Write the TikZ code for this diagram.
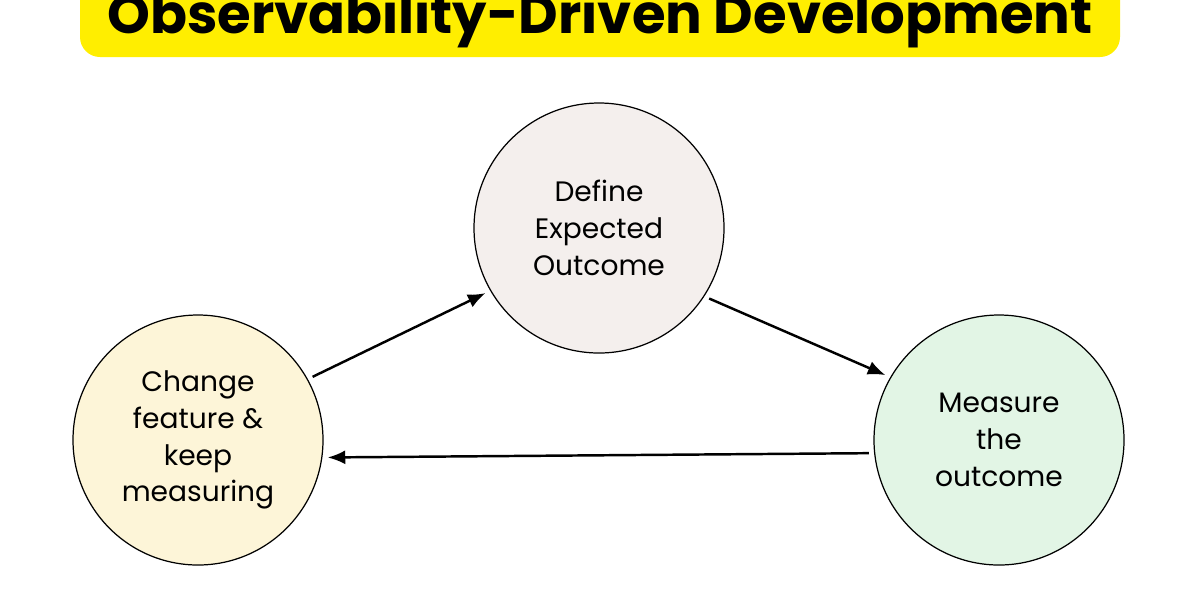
\documentclass[tikz,border=0pt]{standalone}
\usepackage{fontspec}
\setmainfont{Poppins}
\usetikzlibrary{shapes, arrows, arrows.meta}
\definecolor{titleyellow}{HTML}{FFEE00}
\definecolor{defgray}{HTML}{F4EFED}
\definecolor{chgyellow}{HTML}{FDF5D8}
\definecolor{msrgreen}{HTML}{E2F5E5}
\tikzstyle{phase} = [circle, draw, line width=0.7pt, minimum size=5cm,
    align=center, font=\fontsize{16}{21}\selectfont]
\tikzstyle{line} = [draw, -{Latex[length=10pt,width=8pt]}, line width=1.4pt,
    shorten >=3pt, shorten <=3pt]
\tikzstyle{banner} = [rectangle, fill=titleyellow, rounded corners=0.4cm,
    minimum width=20.8cm, minimum height=1.74cm, text height=0.98cm, text depth=0.2cm,
    font=\bfseries\fontsize{31}{34}\selectfont]

\begin{document}
\begin{tikzpicture}
\useasboundingbox (0,0) rectangle (24,-12);
\node[banner] (title) at (12,-0.27) {Observability-Driven Development};
\node[phase, fill=defgray] (define) at (11.98,-4.56) {Define\\Expected\\Outcome};
\node[phase, fill=chgyellow] (change) at (3.96,-8.8) {Change\\feature \&\\keep\\measuring};
\node[phase, fill=msrgreen] (measure) at (19.98,-8.8) {Measure\\the\\outcome};
\path [line] (change.29) -- (define.210);
\path [line] (define.-33) -- (measure.150);
\path [line] (measure.186) -- (change.-8);
\end{tikzpicture}
\end{document}
